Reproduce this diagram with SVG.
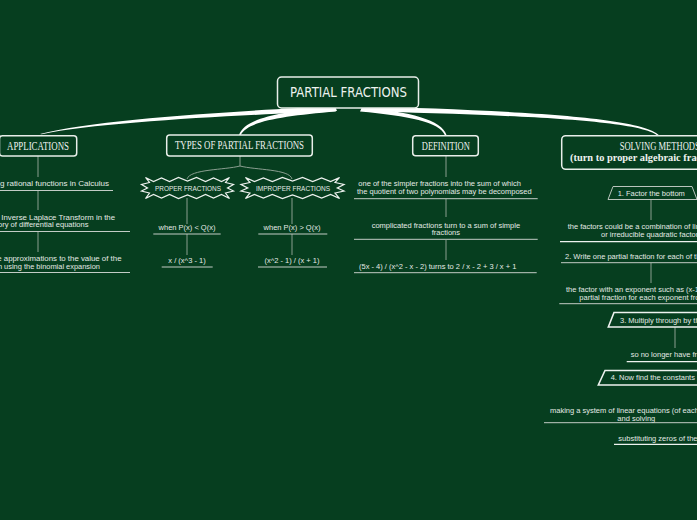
<svg xmlns="http://www.w3.org/2000/svg" width="697" height="520" viewBox="0 0 697 520">
<style>
.t{font-family:"Liberation Sans",Arial,sans-serif;font-size:7.5px;fill:#e4eae5}
.m{text-anchor:middle}
.h{font-family:"Liberation Serif","Times New Roman",serif;font-size:13.5px;fill:#eef2ef;text-anchor:middle}
.box{fill:#063e1f;stroke:#e8eee9;stroke-width:1.5}
.ul{stroke:#c3ccc6;stroke-width:1;fill:none}
.ulb{stroke:#eef2ef;stroke-width:1.2;fill:none}
.ln{stroke:#8a9e90;stroke-width:1;fill:none}
.tap{fill:#ffffff}
.burst{fill:#063e1f;stroke:#eef2ef;stroke-width:1.2}
.par{fill:#063e1f;stroke:#eef2ef;stroke-width:1.6}
.trap{fill:#063e1f;stroke:#b9c4bc;stroke-width:1}
</style>
<defs>
<path id="burst" d="M-42,-10.5 L-34,-6.5 L-26,-10 L-18,-6.5 L-9,-10.5 L0,-7 L9,-10.5 L18,-6.5 L26,-10 L34,-6.5 L42,-10.5 L38,-5.5 L46,-3.5 L40,0 L46,3 L38,5 L42,10.5 L34,6.5 L26,10 L18,6.5 L9,10.5 L0,7 L-9,10.5 L-18,6.5 L-26,10 L-34,6.5 L-42,10.5 L-38,5 L-46,3 L-40,0 L-46,-3.5 L-38,-5.5 Z"/>
</defs>
<rect width="697" height="520" fill="#063e1f"/>

<g id="connectors">
<path class="tap" d="M335,106 C260,110 100,118 40,134 L41.8,134.3 C102,121 262,114.5 337,111 Z"/>
<path class="tap" d="M332,107 C280,112 245,118 239,135 L240.8,135 C248,121 283,116 336,111.5 Z"/>
<path class="tap" d="M362,107 C410,112 442,120 446.5,135 L444.8,135 C440,122 408,116 360,111.5 Z"/>
<path class="tap" d="M365,106 C470,110 640,114 659.5,135.5 L657.5,135.5 C636,117.5 468,114.5 362,111 Z"/>
<path class="ln" d="M38,156 V177 M38,191 V210 M38,232 V252"/>
<path class="ln" d="M240,156 V166 C225,170 190,169 187,179 M240,166 C255,170 290,169 292,179"/>
<path class="ln" d="M187,198 V224 M187,234 V255 M292,198 V224 M292,234 V255"/>
<path class="ln" d="M446,156 V177 M446,199 V217 M446,240 V260"/>
<path class="ln" d="M651,200 V220 M651,263 V283 M675,327 V348"/>
</g>

<g id="root">
<rect class="box" x="277.5" y="77" width="141" height="31" rx="4"/>
<text x="348.5" y="97" font-family="DejaVu Sans, sans-serif" font-size="13.5" fill="#eef2ef" text-anchor="middle" textLength="117" lengthAdjust="spacingAndGlyphs">PARTIAL FRACTIONS</text>
</g>

<g id="applications">
<rect class="box" x="-0.5" y="135.7" width="77.2" height="20.3" rx="3"/>
<text class="h" x="38" y="149.5" textLength="62" lengthAdjust="spacingAndGlyphs">APPLICATIONS</text>
</g>
<g id="app1">
<text class="t m" x="38" y="186" textLength="142" lengthAdjust="spacingAndGlyphs">integrating rational functions in Calculus</text>
<path class="ul" d="M-37,190.5 H113"/>
</g>
<g id="app2">
<text class="t m" x="38" y="219.5" textLength="154" lengthAdjust="spacingAndGlyphs">used in the Inverse Laplace Transform in the</text>
<text class="t m" x="38" y="227" textLength="101" lengthAdjust="spacingAndGlyphs">theory of differential equations</text>
<path class="ul" d="M-54,231.5 H130"/>
</g>
<g id="app3">
<text class="t m" x="38" y="260.5" textLength="167" lengthAdjust="spacingAndGlyphs">used to make approximations to the value of the</text>
<text class="t m" x="38" y="268.5" textLength="124" lengthAdjust="spacingAndGlyphs">function using the binomial expansion</text>
<path class="ul" d="M-54,272.5 H130"/>
</g>

<g id="types">
<rect class="box" x="166.7" y="135" width="145.6" height="21" rx="3"/>
<text class="h" x="239.5" y="149" textLength="129" lengthAdjust="spacingAndGlyphs">TYPES OF PARTIAL FRACTIONS</text>
</g>
<g id="proper">
<use href="#burst" class="burst" transform="translate(187.5,188)"/>
<text class="t m" x="188" y="190.8" font-size="7" textLength="66" lengthAdjust="spacingAndGlyphs">PROPER FRACTIONS</text>
</g>
<g id="improper">
<use href="#burst" class="burst" transform="translate(292.5,188) scale(1.12,1)"/>
<text class="t m" x="293" y="190.8" font-size="7" textLength="74" lengthAdjust="spacingAndGlyphs">IMPROPER FRACTIONS</text>
</g>
<g id="proper1">
<text class="t m" x="187" y="230">when P(x) &lt; Q(x)</text>
<path class="ul" d="M153.3,234 H220.7"/>
</g>
<g id="proper2">
<text class="t m" x="187" y="262.5">x / (x^3 - 1)</text>
<path class="ul" d="M161.7,267 H212.7"/>
</g>
<g id="improper1">
<text class="t m" x="292" y="230">when P(x) &gt; Q(x)</text>
<path class="ul" d="M258.3,234 H327.3"/>
</g>
<g id="improper2">
<text class="t m" x="292" y="262.5">(x^2 - 1) / (x + 1)</text>
<path class="ul" d="M258,267 H327"/>
</g>

<g id="definition">
<rect class="box" x="412.7" y="135.7" width="65.6" height="20" rx="3"/>
<text class="h" x="445.8" y="149.5" textLength="48" lengthAdjust="spacingAndGlyphs">DEFINITION</text>
</g>
<g id="def1">
<text class="t" x="358.3" y="186">one of the simpler fractions into the sum of which</text>
<text class="t" x="357" y="193.7">the quotient of two polynomials may be decomposed</text>
<path class="ul" d="M354,198.7 H537.7"/>
</g>
<g id="def2">
<text class="t" x="371.7" y="227.7">complicated fractions turn to a sum of simple</text>
<text class="t" x="431.7" y="235.4">fractions</text>
<path class="ul" d="M354,239.3 H537.7"/>
</g>
<g id="def3">
<text class="t" x="359" y="268.7">(5x - 4) / (x^2 - x - 2) turns to 2 / x - 2 + 3 / x + 1</text>
<path class="ul" d="M354,272.7 H536.7"/>
</g>

<g id="solving">
<rect class="box" x="561.7" y="135.7" width="196.3" height="33.6" rx="4"/>
<text class="h" x="619.7" y="149.5" style="text-anchor:start" textLength="80" lengthAdjust="spacingAndGlyphs">SOLVING METHODS</text>
<text x="570" y="161.3" font-family="Liberation Serif, Times New Roman, serif" font-weight="bold" font-size="10.4" fill="#eef2ef">(turn to proper algebraic fractions)</text>
</g>
<g id="step1">
<path class="trap" d="M608,199.5 L613,186.5 L692,186.5 L697,199.5 Z"/>
<text class="t" x="617.7" y="195.5">1. Factor the bottom</text>
</g>
<g id="step1a">
<text class="t" x="567.7" y="229.3">the factors could be a combination of linear factors</text>
<text class="t" x="601" y="237">or irreducible quadratic factors</text>
<path class="ulb" d="M560,241.7 H745"/>
</g>
<g id="step2">
<text class="t" x="565" y="259.3">2. Write one partial fraction for each of the factors</text>
<path class="ul" d="M561,262.7 H745"/>
</g>
<g id="step2a">
<text class="t" x="566" y="292">the factor with an exponent such as (x-1)^2 needs a</text>
<text class="t" x="579.3" y="300">partial fraction for each exponent from 1 to 2</text>
<path class="ul" d="M559.3,303.7 H745"/>
</g>
<g id="step3">
<path class="par" d="M608.3,327 L614,312.5 L760,312.5 L754,327 Z"/>
<text class="t" x="620" y="323.3">3. Multiply through by the bottom</text>
</g>
<g id="step3a">
<text class="t" x="630.7" y="357">so no longer have fractions</text>
<path class="ulb" d="M626.7,361.7 H725"/>
</g>
<g id="step4">
<path class="par" d="M598.3,385 L605,370.5 L760,370.5 L753,385 Z"/>
<text class="t" x="610.7" y="380.3">4. Now find the constants</text>
</g>
<g id="step4a">
<text class="t" x="550" y="412.7">making a system of linear equations (of each coefficient)</text>
<text class="t m" x="636.3" y="420.5">and solving</text>
<path class="ul" d="M544,422.7 H730"/>
</g>
<g id="step4b">
<text class="t" x="618.3" y="441">substituting zeros of the bottom</text>
<path class="ulb" d="M614,444.3 H722"/>
</g>
</svg>
